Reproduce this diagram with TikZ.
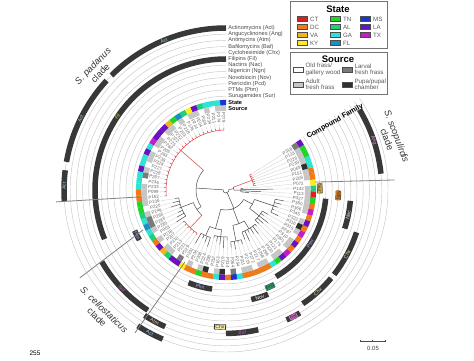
\documentclass[tikz,border=0pt]{standalone}
\usepackage{fontspec}
\setmainfont{Liberation Sans}

% state colours
\definecolor{stCT}{HTML}{D92222}
\definecolor{stDC}{HTML}{F07A1A}
\definecolor{stVA}{HTML}{F2B51E}
\definecolor{stKY}{HTML}{FFEE1A}
\definecolor{stTN}{HTML}{22D426}
\definecolor{stAL}{HTML}{1ECF7C}
\definecolor{stGA}{HTML}{2EE2D4}
\definecolor{stFL}{HTML}{1C8CC8}
\definecolor{stMS}{HTML}{1A36D2}
\definecolor{stLA}{HTML}{6A12C0}
\definecolor{stTX}{HTML}{C41CC8}
% source colours
\definecolor{sow}{HTML}{FFFFFF}
\definecolor{soa}{HTML}{C6C6C6}
\definecolor{sol}{HTML}{7A7A7A}
\definecolor{sop}{HTML}{303030}
% tree and compound labels
\definecolor{tred}{HTML}{E03A3A}
\definecolor{tgrey}{HTML}{4A4A4A}
\definecolor{cAct}{HTML}{9FD0E8}
\definecolor{cAng}{HTML}{E0A0DC}
\definecolor{cAtm}{HTML}{F0C0A0}
\definecolor{cBaf}{HTML}{D050C0}
\definecolor{cBafB}{HTML}{C868C0}
\definecolor{cChx}{HTML}{F0E4A8}
\definecolor{cFil}{HTML}{C4DC40}
\definecolor{cNac}{HTML}{E4E4E4}
\definecolor{cNov}{HTML}{FFFFFF}
\definecolor{cNovB}{HTML}{C87828}
\definecolor{cPcdB}{HTML}{2A9A60}
\definecolor{cPtm}{HTML}{A8AEF0}
\definecolor{cSurB}{HTML}{D8A830}

\begin{document}
\begin{tikzpicture}[x=1pt,y=1pt,
  ringline/.style={draw=black!22, line width=0.45pt},
  band/.style={draw=black!78, line width=5.5pt},
  tree/.style={line width=0.5pt},
  ext/.style={draw=black!20, line width=0.3pt},
  tiplab/.style={font=\fontsize{4.5}{4.5}\selectfont, text=black!60, inner sep=0.2pt},
  cmplab/.style={font=\fontsize{5}{5}\selectfont, inner sep=0.5pt},
  ringlab/.style={font=\fontsize{5.6}{5.6}\selectfont, text=black!72, inner sep=0.2pt, anchor=west},
  sep/.style={draw=black!50, line width=0.8pt},
  clade/.style={font=\fontsize{9.3}{10.5}\selectfont, align=center, text=black!80},
  swatch/.style={draw=black!70, line width=0.4pt, minimum width=10pt, minimum height=5pt, inner sep=0pt, anchor=west},
  leglab/.style={font=\fontsize{6.2}{6.4}\selectfont, text=black!65, anchor=west, inner sep=0pt, align=left},
  legbox/.style={draw=black!55, line width=0.9pt}]
\useasboundingbox (0,0) rectangle (474,361);

\begin{scope}[shift={(226,171)}]
% thin rings
\foreach \kk in {0,...,11}{
  \pgfmathsetmacro\rr{162-6.2*\kk}
  \draw[ringline] (90:\rr) arc[start angle=90, end angle=394.5, radius=\rr];
}

% compound family pieces
\foreach \kk/\p/\q/\tx/\tc/\bx [count=\n] in {
  0/90/135/Act/cAct/0, 0/137.5/170/Act/cAct/0, 0/173/184/Act/cAct/0,
  0/237/247/Act/cAct/0, 1/6/31/Ang/cAng/0, 2/237/246/Atm/cAtm/0,
  3/210/237/Baf/cBaf/0, 3/270/283/Baf/cBaf/0, 3/295/301/Baf/cBafB/1,
  4/265/270/Chx/cChx/1, 4/304/320/Chx/cChx/0, 4/322/342/Chx/cChx/0,
  5/90/202/Fil/cFil/0, 6/342/355/Nac/cNac/0, 8/283/292/Nov/cNov/0,
  8/355/359.5/Nov/cNovB/1, 9/292/297/Pcd/cPcdB/1, 10/204/210/Ptm/cPtm/0,
  10/248/262/Ptm/cPtm/0, 10/300/355/Ptm/cPtm/0, 11/358/364/Sur/cSurB/1}{
  \pgfmathsetmacro\rr{162-6.2*\kk}
  \pgfmathsetmacro\m{(\p+\q)/2}
  \pgfmathsetmacro\rot{mod(\m,360)<180 ? \m-90 : \m+90}
  \draw[band] (\p:\rr) arc[start angle=\p, end angle=\q, radius=\rr];
  \ifnum\bx=1
    \node[cmplab, fill=\tc, text=black!80, rotate=\rot] (cmp\n) at (\m:\rr) {\tx};
  \else
    \node[cmplab, text=\tc, rotate=\rot] (cmp\n) at (\m:\rr) {\tx};
  \fi
}

% state, source and tip labels
\foreach \i/\s/\src/\lab in {
  0/MS/a/P279, 1/GA/a/P274, 2/GA/w/P211, 3/GA/a/P234, 4/AL/w/P024,
  5/LA/a/P204, 6/KY/a/P214, 7/AL/w/P176, 8/FL/a/P218, 9/TN/w/P203,
  10/VA/a/P232, 11/LA/a/P222, 12/LA/w/P225, 13/LA/a/P262, 14/TX/a/P205,
  15/GA/w/P283, 16/LA/a/P238, 17/GA/a/P328, 18/GA/w/P227, 19/LA/a/P228,
  20/GA/l/P267, 21/GA/w/P236, 22/GA/a/P233, 23/DC/a/P099, 24/DC/a/P162,
  25/TN/a/P136, 26/TN/w/P220, 27/AL/a/P249, 28/GA/l/P266, 29/FL/l/P286,
  30/GA/a/P285, 31/AL/w/P003, 32/DC/a/P216, 33/LA/w/P207, 34/VA/a/P210,
  35/AL/a/P213, 36/LA/w/P221, 37/LA/l/P229, 38/KY/w/P231, 39/DC/a/P206,
  40/DC/w/P208, 41/TN/a/P224, 42/DC/p/P298, 43/DC/w/P212, 44/GA/a/P163,
  45/LA/p/P219, 46/DC/w/P314, 47/MS/l/P264, 48/GA/w/P254, 49/DC/a/P311,
  50/DC/a/P215, 51/DC/w/P272, 52/DC/a/P217, 53/DC/a/P258, 54/GA/w/P296,
  55/TN/a/P320, 56/LA/a/P121, 57/TX/w/P175, 58/DC/a/P301, 59/LA/a/P310,
  60/DC/w/P297, 61/TX/a/P315, 62/DC/p/P316, 63/LA/a/P322, 64/DC/w/P345,
  65/TX/a/P366, 66/DC/a/P360, 67/TN/a/P327, 68/CT/a/P113, 69/AL/a/P142,
  70/KY/w/P072, 71/DC/a/P209, 72/DC/a/P151, 73/GA/p/P069, 74/GA/a/P239,
  75/TN/a/P226, 76/TN/a/P133, 77/LA/l/P318}{
  \pgfmathsetmacro\ang{91.95+3.9*\i}
  \pgfmathsetmacro\ba{\ang-2}
  \pgfmathsetmacro\bb{\ang+2}
  \draw[line width=5.5pt, draw=st\s] (\ba:87.3) arc[start angle=\ba, end angle=\bb, radius=87.3];
  \draw[line width=5.5pt, draw=so\src] (\ba:81.8) arc[start angle=\ba, end angle=\bb, radius=81.8];
  \ifdim\ang pt<270pt
    \pgfmathsetmacro\rot{\ang-180}
    \node[tiplab, anchor=west, rotate=\rot] (tip\i) at (\ang:78.3) {\lab};
  \else
    \node[tiplab, anchor=east, rotate=\ang] (tip\i) at (\ang:78.3) {\lab};
  \fi
}

% tree: tips
\foreach \lo/\hi/\rp/\dr/\cl in {0/24/60/0/tred, 25/31/48/1.5/tgrey,
    32/37/52/0/tred, 38/41/50/1.5/tgrey, 42/46/47/1.5/tgrey, 47/50/52/1.2/tgrey,
    51/56/45/1.5/tgrey, 57/61/42/1.5/tgrey, 62/66/50/1.2/tgrey,
    67/70/15/6/tgrey, 71/77/28/0/tred}{
  \foreach \i in {\lo,...,\hi}{
    \pgfmathsetmacro\ang{91.95+3.9*\i}
    \pgfmathsetmacro\rt{\rp+2+\dr*mod(\i*37,7)}
    \draw[ext] (\ang:\rt) -- (\ang:66.5);
    \draw[tree, draw=\cl] (\ang:\rp) -- (\ang:\rt);
  }
}
% tree: inner nodes
\foreach \p/\q/\rr/\rp/\cl in {91.95/185.55/60/30/tred, 189.45/212.85/48/35/tgrey,
    216.75/236.25/52/35/tred, 201.15/226.5/35/30/tgrey, 138.75/213.825/30/3/tgrey,
    240.15/251.85/50/40/tgrey, 255.75/271.35/47/40/tgrey, 246/263.55/40/20/tgrey,
    275.25/286.95/52/36/tgrey, 290.85/310.35/45/36/tgrey, 281.1/300.6/36/20/tgrey,
    314.25/329.85/42/30/tgrey, 333.75/349.35/50/30/tgrey, 322.05/341.55/30/20/tgrey,
    254.775/331.8/20/3/tgrey, 353.25/364.95/15/8/tgrey, 368.85/392.25/28/8/tred,
    359.1/380.55/8/3/tgrey, 176.29/369.825/3/3/tgrey}{
  \pgfmathsetmacro\m{(\p+\q)/2}
  \draw[tree, draw=\cl] (\p:\rr) arc[start angle=\p, end angle=\q, radius=\rr];
  \draw[tree, draw=\cl] (\m:\rp) -- (\m:\rr);
}

% clade separators
\draw[sep] (184.6:86) -- (184:170.5);
\draw[sep] (205.7:92) -- (211:170.5);
\draw[sep] (240.3:83) -- (237.5:169.5);
\draw[sep] (5.1:89) -- (3.4:169);

% ring names
\foreach \tx [count=\kk from 0] in {{Actinomycins (Act)}, {Angucyclinones (Ang)},
    {Antimycins (Atm)}, {Bafilomycins (Baf)}, {Cycloheximide (Chx)}, {Filipins (Fil)},
    {Nactins (Nac)}, {Nigericin (Ngn)}, {Novobiocin (Nov)}, {Piericidin (Pcd)},
    {PTMs (Ptm)}, {Surugamides (Sur)}}{
  \pgfmathsetmacro\rr{162-6.2*\kk}
  \node[ringlab] (rl\kk) at (2,\rr) {\tx};
}
\node[ringlab, text=black, font=\bfseries\fontsize{5.6}{5.6}\selectfont] (rlState) at (2,87.6) {State};
\node[ringlab, text=black, font=\bfseries\fontsize{5.6}{5.6}\selectfont] (rlSource) at (2,81.6) {Source};
\end{scope}

% clade names
\node[clade, rotate=45.8] (cladePad) at (96.5,291.5) {\itshape S. padanus\\clade};
\node[clade, rotate=-69.3] (cladeSco) at (392,223) {\itshape S. scopulirdis\\clade};
\node[clade, rotate=-44] (cladeCel) at (100.5,47.5) {\itshape S. cellostaticus\\clade};
\node[font=\bfseries\fontsize{7.3}{8}\selectfont, rotate=29.6] (cmpFam) at (335,239.5) {Compound Family};

% State legend
\draw[legbox] (290,313) rectangle (387,360);
\node[font=\bfseries\fontsize{9.5}{10}\selectfont] (stTitle) at (338,352) {State};
\foreach \s/\x/\y in {CT/297/342, DC/297/334, VA/297/326, KY/297/318,
    TN/330/342, AL/330/334, GA/330/326, FL/330/318,
    MS/360/342, LA/360/334, TX/360/326}{
  \node[swatch, fill=st\s] (sw\s) at (\x,\y) {};
  \node[leglab] (lt\s) at ([xshift=2.5pt]sw\s.east) {\s};
}

% Source legend
\draw[legbox] (290,267) rectangle (387,309);
\node[font=\bfseries\fontsize{9.5}{10}\selectfont] (soTitle) at (338,302) {Source};
\foreach \src/\x/\y/\tx in {w/293/291.5/{Old frass/\\gallery wood}, l/342/291.5/{Larval\\fresh frass},
    a/293/276.5/{Adult\\fresh frass}, p/342/276.5/{Pupa/pupal\\chamber}}{
  \node[swatch, fill=so\src] (sws\src) at (\x,\y) {};
  \node[leglab] (lts\src) at ([xshift=2pt]sws\src.east) {\tx};
}

% scale bar
\coordinate (sbA) at (360,20);
\coordinate (sbM) at (372.5,20);
\coordinate (sbB) at (385,20);
\draw[black!70, line width=0.6pt] (sbA) -- (sbB);
\draw[black!70, line width=0.6pt] ([yshift=-1.3pt]sbA) -- ([yshift=1.3pt]sbA);
\draw[black!70, line width=0.6pt] ([yshift=-1pt]sbM) -- ([yshift=1pt]sbM);
\draw[black!70, line width=0.6pt] ([yshift=-1.3pt]sbB) -- ([yshift=1.3pt]sbB);
\node[font=\fontsize{6}{6}\selectfont, text=black!75] (sbLab) at (373,13) {0.05};

\node[font=\fontsize{6.5}{7}\selectfont] (figNum) at (35,8) {255};
\end{tikzpicture}
\end{document}
